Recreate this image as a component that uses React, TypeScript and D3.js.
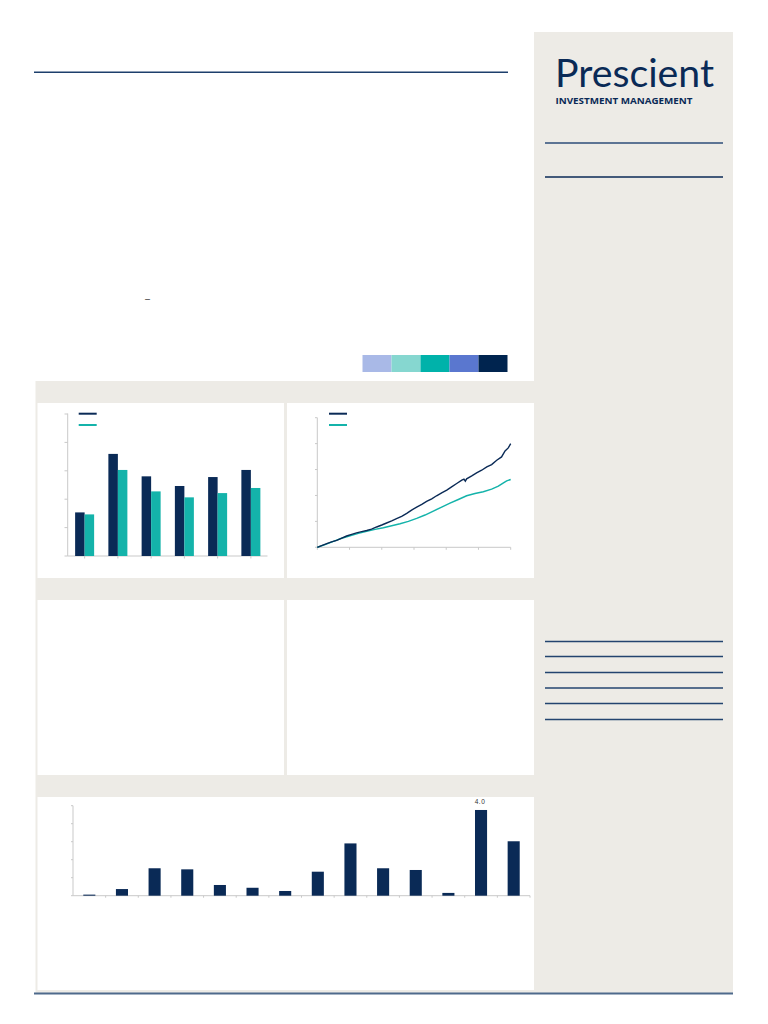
import React from "react";
import * as d3 from "d3";

// ---------- Data ----------
const NAVY = "#0A2A56";
const TEAL = "#14B3AA";
const GREY_BG = "#EDEBE6";
const AXIS = "#C9C9C9";

// Chart 1: grouped bars (fund vs benchmark)
const barCategories = ["1", "2", "3", "4", "5", "6"];
const fundValues = [3.07, 7.19, 5.61, 4.93, 5.56, 6.06];
const benchValues = [2.93, 6.06, 4.55, 4.13, 4.43, 4.79];
const bar1Ticks = [0, 2, 4, 6, 8, 10];

// Chart 2: cumulative growth lines (month, index)
const fundGrowth: [number, number][] = [
  [0, 100], [1.6, 103.2], [3.5, 107.1], [5.3, 110.3], [7.2, 113.5], [9.1, 117.9],
  [10.9, 121.8], [12.8, 125.0], [14.6, 127.8], [16.5, 130.2], [18.4, 132.4],
  [20.2, 135.0], [22.1, 139.2], [24.0, 143.0], [25.8, 146.9], [27.7, 151.0],
  [29.5, 155.3], [31.4, 159.8], [33.3, 165.4], [35.1, 171.8], [37.0, 177.6],
  [38.9, 182.7], [40.7, 188.5], [42.6, 193.6], [44.4, 199.4], [46.3, 205.1],
  [48.2, 210.3], [50.0, 216.7], [51.9, 223.1], [53.8, 229.5], [54.6, 231.4],
  [55.1, 227.6], [55.6, 232.1], [57.5, 237.8], [59.3, 243.6], [61.2, 248.7],
  [63.1, 255.1], [64.9, 259.6], [66.8, 267.9], [68.6, 274.4], [69.9, 285.9],
  [71.1, 291.7], [72, 300.0],
];
const benchGrowth: [number, number][] = [
  [0, 100], [2.9, 105.1], [6.0, 111.5], [9.1, 117.3], [12.2, 122.4], [15.3, 126.9],
  [18.4, 130.8], [21.5, 134.6], [24.6, 137.8], [27.7, 141.7], [30.8, 145.5],
  [33.9, 150.0], [37.0, 155.8], [40.1, 162.2], [43.2, 169.9], [46.3, 177.6],
  [49.4, 185.3], [52.5, 192.3], [55.6, 199.4], [58.7, 203.8], [61.8, 207.1],
  [64.9, 212.2], [67.4, 217.9], [69.3, 224.4], [70.5, 228.2], [72, 230.8],
];
const lineXTicks = [0, 12, 24, 36, 48, 60, 72];
const lineYTicks = [100, 150, 200, 250, 300, 350];

// Chart 3: single-series bars
const bar3Categories = ["1", "2", "3", "4", "5", "6", "7", "8", "9", "10", "11", "12", "13", "14"];
const bar3Values = [0.05, 0.31, 1.28, 1.23, 0.5, 0.37, 0.22, 1.12, 2.44, 1.28, 1.2, 0.13, 4.0, 2.54];
const bar3Ticks = [0, 0.84, 1.68, 2.52, 3.36, 4.2];
const bar3LabelIndex = 12;

// Colour band swatches
const swatches = ["#A9B9E7", "#86D7D0", "#00B2AA", "#5A77CF", "#00244F"];

// Sidebar rule positions
const sidebarRulesTop = [143, 177];
const sidebarRulesBottom = [641.5, 656.5, 672.5, 688, 703.5, 719.5];

export default function App() {
  // ----- chart 1 scales -----
  const x1 = d3.scaleBand<string>().domain(barCategories).range([68, 267.5]);
  const xInner = d3.scaleBand<string>().domain(["fund", "bench"]).range([0, 19]);
  const y1 = d3.scaleLinear().domain([0, 10]).range([556, 414]);

  // ----- chart 2 scales -----
  const x2 = d3.scaleLinear().domain([0, 72]).range([317.3, 510.7]);
  const y2 = d3.scaleLinear().domain([100, 350]).range([547.3, 417.7]);
  const line = d3
    .line<[number, number]>()
    .x((d) => x2(d[0]))
    .y((d) => y2(d[1]));

  // ----- chart 3 scales -----
  const x3 = d3.scaleBand<string>().domain(bar3Categories).range([73, 530]).paddingInner(0.63).paddingOuter(0.315);
  const x3b = d3.scaleBand<string>().domain(bar3Categories).range([73, 530]);
  const y3 = d3.scaleLinear().domain([0, 4.2]).range([895.7, 805.7]);

  const swatchX = d3.scaleBand<number>().domain(swatches.map((_, i) => i)).range([362.5, 507.5]);

  return (
    <svg
      width={768}
      height={1024}
      style={{ position: "absolute", left: 0, top: 0, background: "#fff" }}
      fontFamily="Liberation Sans, Arial, sans-serif"
    >
      <rect x={0} y={0} width={768} height={1024} fill="#fff" />

      {/* Sidebar */}
      <rect x={534} y={32} width={199} height={961} fill={GREY_BG} />
      <text
        x={555}
        y={86.7}
        fontFamily="Lato, 'Open Sans', sans-serif"
        fontSize={39}
        fontWeight={400}
        fill={NAVY}
        textLength={159}
        lengthAdjust="spacingAndGlyphs"
      >
        Prescient
      </text>
      <text
        x={555.5}
        y={104.2}
        fontFamily="'Open Sans', Lato, sans-serif"
        fontSize={8.6}
        fontWeight={700}
        fill={NAVY}
        textLength={137}
        lengthAdjust="spacingAndGlyphs"
      >
        INVESTMENT MANAGEMENT
      </text>
      {sidebarRulesTop.map((y, i) => (
        <line key={"st" + i} x1={545} x2={723} y1={y} y2={y} stroke={i === 0 ? "#2C4C78" : NAVY} strokeWidth={1.4} />
      ))}
      {sidebarRulesBottom.map((y, i) => (
        <line key={"sb" + i} x1={545} x2={723} y1={y} y2={y} stroke="#23446F" strokeWidth={1.4} />
      ))}

      {/* Top rule */}
      <line x1={34} x2={508} y1={72.3} y2={72.3} stroke="#1D3F6C" strokeWidth={1.6} />

      {/* small dash */}
      <text x={145} y={301.5} fontSize={9} fill="#222">
        –
      </text>

      {/* Colour band */}
      {swatches.map((c, i) => (
        <rect key={"sw" + i} x={swatchX(i)} y={355} width={swatchX.bandwidth()} height={17} fill={c} />
      ))}

      {/* Content frame */}
      <rect x={35.5} y={381} width={498.5} height={612} fill={GREY_BG} />
      <rect x={37.5} y={403} width={246.5} height={175} fill="#fff" />
      <rect x={287} y={403} width={247} height={175} fill="#fff" />
      <rect x={37.5} y={600} width={246.5} height={175} fill="#fff" />
      <rect x={287} y={600} width={247} height={175} fill="#fff" />
      <rect x={37.5} y={797} width={496.5} height={193} fill="#fff" />

      {/* Bottom rule */}
      <line x1={34} x2={733} y1={993.5} y2={993.5} stroke="#4E6A8C" strokeWidth={2} />

      {/* ---------- Chart 1 ---------- */}
      <g>
        <line x1={67.7} x2={67.7} y1={413.5} y2={556} stroke={AXIS} strokeWidth={1} />
        {bar1Ticks.map((t) => (
          <line key={"t1" + t} x1={64.5} x2={67.7} y1={y1(t)} y2={y1(t)} stroke={AXIS} />
        ))}
        <line x1={67.7} x2={267.5} y1={556} y2={556} stroke={AXIS} />
        {barCategories.map((c) => (
          <line
            key={"xt1" + c}
            x1={(x1(c) ?? 0) + x1.bandwidth() / 2}
            x2={(x1(c) ?? 0) + x1.bandwidth() / 2}
            y1={556}
            y2={558.5}
            stroke={AXIS}
          />
        ))}
        {barCategories.map((c, i) => {
          const gx = (x1(c) ?? 0) + (x1.bandwidth() - 19) / 2;
          return (
            <g key={"b1" + c}>
              <rect
                x={gx + (xInner("fund") ?? 0)}
                y={y1(fundValues[i])}
                width={xInner.bandwidth()}
                height={y1(0) - y1(fundValues[i])}
                fill={NAVY}
              />
              <rect
                x={gx + (xInner("bench") ?? 0)}
                y={y1(benchValues[i])}
                width={xInner.bandwidth()}
                height={y1(0) - y1(benchValues[i])}
                fill={TEAL}
              />
            </g>
          );
        })}
        <line x1={78.7} x2={96.7} y1={413.7} y2={413.7} stroke={NAVY} strokeWidth={2} />
        <line x1={78.7} x2={96.7} y1={425} y2={425} stroke={TEAL} strokeWidth={2} />
      </g>

      {/* ---------- Chart 2 ---------- */}
      <g>
        <line x1={317.3} x2={317.3} y1={417.7} y2={547.3} stroke={AXIS} />
        {lineYTicks.map((t) => (
          <line key={"t2" + t} x1={315} x2={317.3} y1={y2(t)} y2={y2(t)} stroke={AXIS} />
        ))}
        <line x1={317.3} x2={510.7} y1={547.3} y2={547.3} stroke={AXIS} />
        {lineXTicks.map((t) => (
          <line key={"xt2" + t} x1={x2(t)} x2={x2(t)} y1={547.3} y2={549.8} stroke={AXIS} />
        ))}
        <path d={line(benchGrowth) ?? ""} fill="none" stroke={TEAL} strokeWidth={1.5} />
        <path d={line(fundGrowth) ?? ""} fill="none" stroke={NAVY} strokeWidth={1.4} />
        <line x1={329} x2={347} y1={413.7} y2={413.7} stroke={NAVY} strokeWidth={2} />
        <line x1={329} x2={347} y1={425} y2={425} stroke={TEAL} strokeWidth={2} />
      </g>

      {/* ---------- Chart 3 ---------- */}
      <g>
        <line x1={73} x2={73} y1={805.7} y2={895.7} stroke={AXIS} />
        {bar3Ticks.map((t) => (
          <line key={"t3" + t} x1={71} x2={73} y1={y3(t)} y2={y3(t)} stroke={AXIS} />
        ))}
        <line x1={73} x2={530} y1={895.7} y2={895.7} stroke={AXIS} />
        {bar3Categories.map((c) => (
          <line
            key={"xt3" + c}
            x1={(x3b(c) ?? 0) + x3b.bandwidth()}
            x2={(x3b(c) ?? 0) + x3b.bandwidth()}
            y1={895.7}
            y2={897.7}
            stroke={AXIS}
          />
        ))}
        {bar3Categories.map((c, i) => (
          <rect
            key={"b3" + c}
            x={x3(c)}
            y={y3(bar3Values[i])}
            width={x3.bandwidth()}
            height={y3(0) - y3(bar3Values[i])}
            fill={NAVY}
          />
        ))}
        <text
          x={(x3(bar3Categories[bar3LabelIndex]) ?? 0) + x3.bandwidth() / 2 - 1}
          y={803.5}
          fontSize={6.5}
          textAnchor="middle"
          fill="#333"
          letterSpacing={0.5}
        >
          {bar3Values[bar3LabelIndex].toFixed(1)}
        </text>
      </g>
    </svg>
  );
}
